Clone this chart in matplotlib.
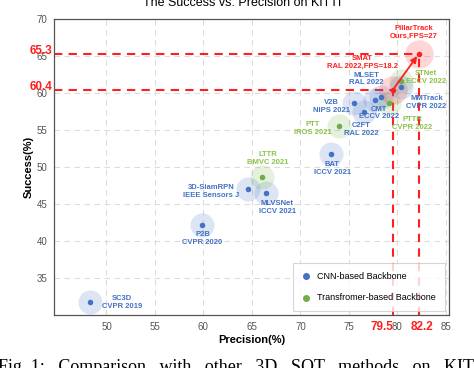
import numpy as np
import matplotlib
matplotlib.use("Agg")
import matplotlib.pyplot as plt

plt.rcParams['font.family'] = ['Liberation Sans', 'DejaVu Sans']

# data
methods = ['SC3D', 'P2B', '3D-SiamRPN', 'MLVSNet', 'LTTR', 'BAT', 'PTT', 'V2B',
           'C2FT', 'CMT', 'MLSET', 'PTTR', 'SMAT', 'STNet', 'MMTrack', 'PillarTrack']
venues = ['CVPR 2019', 'CVPR 2020', 'IEEE Sensors J', 'ICCV 2021', 'BMVC 2021',
          'ICCV 2021', 'IROS 2021', 'NIPS 2021', 'RAL 2022', 'ECCV 2022', 'RAL 2022',
          'CVPR 2022', 'RAL 2022,FPS=18.2', 'ECCV 2022', 'CVPR 2022', 'Ours,FPS=27']
precision = [48.3, 59.9, 64.6, 66.5, 66.0, 73.2, 74.0, 75.5,
             76.5, 77.7, 78.3, 79.1, 79.5, 80.4, 80.4, 82.2]
success = [31.7, 42.2, 47.1, 46.5, 48.6, 51.8, 55.5, 58.6,
           57.5, 59.1, 59.5, 58.7, 60.4, 61.6, 60.8, 65.3]
backbone = ['cnn', 'cnn', 'cnn', 'cnn', 'tf', 'cnn', 'tf', 'cnn',
            'cnn', 'cnn', 'cnn', 'tf', 'ours', 'tf', 'cnn', 'ours']
legend_labels = ['CNN-based Backbone', 'Transfromer-based Backbone']

# label placement (offset from the point, data units)
label_offset = [(3.3, 0.0), (0.0, -1.9), (-3.8, -0.4), (1.1, -2.0), (0.6, 2.6),
                (0.1, -2.0), (-2.7, -0.3), (-2.3, -0.4), (-0.2, -2.4), (0.4, -1.8),
                (-1.5, 2.4), (2.4, -2.8), (-3.1, 3.7), (2.5, 0.5), (2.6, -2.1),
                (-0.5, 2.9)]

pt_color = {'cnn': '#4472C4', 'tf': '#70AD47', 'ours': '#FF1F1F'}
txt_color = {'cnn': '#4472C4', 'tf': '#8DC149', 'ours': '#FF1F1F'}
red = '#FF1F1F'

fig = plt.figure(figsize=(4.74, 3.68), dpi=100)
ax = fig.add_axes([0.114, 0.144, 0.833, 0.804])
ax.set_xlim(44.6, 85.3)
ax.set_ylim(30, 70)
ax.set_xticks(np.arange(50, 86, 5))
ax.set_yticks(np.arange(35, 71, 5))
ax.grid(True, ls=(0, (5, 4)), color='#dcdcdc', lw=0.8)
ax.set_axisbelow(True)
for s in ax.spines.values():
    s.set_color('#555555')
    s.set_linewidth(0.9)
ax.tick_params(length=0, labelsize=7, labelcolor='#555555', pad=5)

# best / second-best guide lines
best = methods.index('PillarTrack')
second = methods.index('SMAT')
for i in (best, second):
    ax.plot([44.6, precision[i]], [success[i], success[i]], color=red, lw=1.5, ls=(0, (4, 3)))
    ax.plot([precision[i], precision[i]], [30, success[i]], color=red, lw=1.5, ls=(0, (4, 3)))
    ax.text(-0.004, success[i] + 0.4, f'{success[i]:.1f}', transform=ax.get_yaxis_transform(),
            ha='right', va='center', color=red, fontsize=8.5, fontweight='bold', clip_on=False)
ax.text(precision[second] + 0.1, -0.02, f'{precision[second]:.1f}', transform=ax.get_xaxis_transform(),
        ha='right', va='top', color=red, fontsize=8.5, fontweight='bold', clip_on=False)
ax.text(precision[best] + 0.3, -0.02, f'{precision[best]:.1f}', transform=ax.get_xaxis_transform(),
        ha='center', va='top', color=red, fontsize=8.5, fontweight='bold', clip_on=False)

# halos and points
for x, y, b in zip(precision, success, backbone):
    size = 420 if b == 'ours' else 300
    ax.scatter(x, y, s=size, color=pt_color[b], alpha=0.18, lw=0, zorder=2)
for x, y, b in zip(precision, success, backbone):
    ax.scatter(x, y, s=16, color=pt_color[b], lw=0, zorder=4)

ax.annotate('', xy=(precision[best], success[best]), xytext=(precision[second], success[second]),
            arrowprops=dict(arrowstyle='-|>', color=red, lw=1.3, mutation_scale=9), zorder=5)

for m, v, x, y, b, (dx, dy) in zip(methods, venues, precision, success, backbone, label_offset):
    ax.text(x + dx, y + dy, f'{m}\n{v}', ha='center', va='center', fontsize=5.5,
            fontweight='bold', color=txt_color[b], linespacing=1.15, zorder=6)

h1 = ax.scatter([], [], s=16, color=pt_color['cnn'])
h2 = ax.scatter([], [], s=16, color=pt_color['tf'])
leg = ax.legend([h1, h2], legend_labels, loc='lower right', fontsize=6.5, frameon=True,
                fancybox=False, edgecolor='#cccccc', borderpad=1.0, labelspacing=1.4,
                handlelength=0.8, handletextpad=0.9, borderaxespad=0.4)
leg.get_frame().set_linewidth(0.8)

ax.set_xlabel('Precision(%)', fontsize=8, fontweight='bold', labelpad=2)
ax.set_ylabel('Success(%)', fontsize=8, fontweight='bold', labelpad=2)

fig.text(0.51, 0.984, 'The Success vs. Precision on KITTI', ha='center', va='baseline', fontsize=9)
fig.text(-0.004, 0.024, 'Fig. 1:   Comparison   with   other   3D   SOT   methods   on   KITTI',
         ha='left', va='top', fontsize=13, family='Liberation Serif')

fig.savefig('out.png', dpi=100)
